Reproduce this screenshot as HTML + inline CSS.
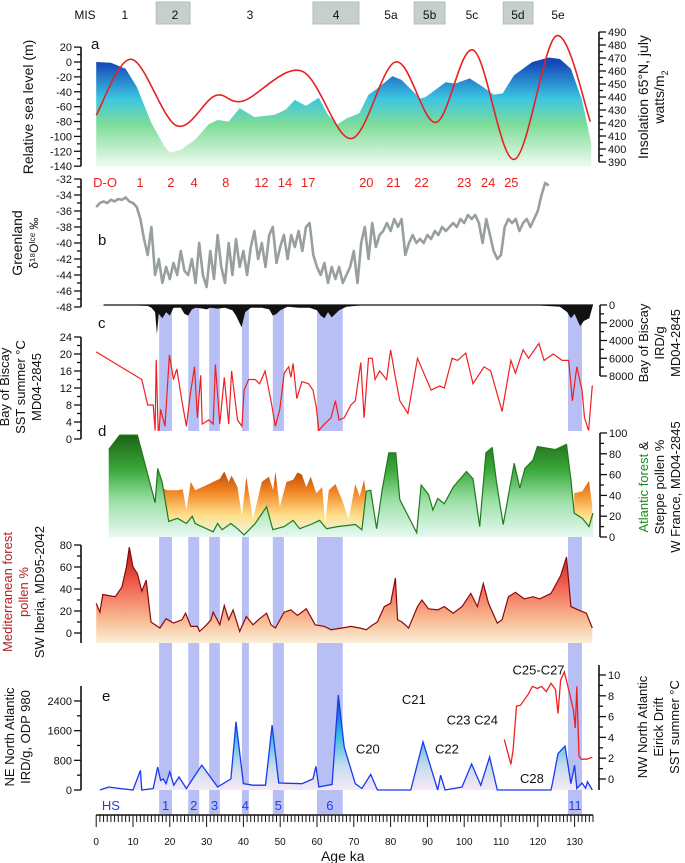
<!DOCTYPE html>
<html><head><meta charset="utf-8">
<style>
html,body{margin:0;padding:0;background:#fff;}
svg{display:block;font-family:"Liberation Sans Narrow","Liberation Sans",sans-serif;}
</style></head>
<body>
<svg id="fig" width="685" height="863" viewBox="0 0 685 863" xmlns="http://www.w3.org/2000/svg">
<defs>
<linearGradient id="gA" gradientUnits="userSpaceOnUse" x1="0" y1="62" x2="0" y2="167">
<stop offset="0" stop-color="#1346b8"/><stop offset="0.35" stop-color="#3cc6e0"/><stop offset="0.6" stop-color="#7fdc98"/><stop offset="1" stop-color="#f2fbf2"/></linearGradient>
<linearGradient id="gG" gradientUnits="userSpaceOnUse" x1="0" y1="433" x2="0" y2="537">
<stop offset="0" stop-color="#1b5e12"/><stop offset="0.35" stop-color="#3aa83a"/><stop offset="0.65" stop-color="#9ae0a6"/><stop offset="1" stop-color="#e8f8f3"/></linearGradient>
<linearGradient id="gO" gradientUnits="userSpaceOnUse" x1="0" y1="465" x2="0" y2="537">
<stop offset="0" stop-color="#a83a00"/><stop offset="0.35" stop-color="#f08020"/><stop offset="0.7" stop-color="#ffe08a"/><stop offset="1" stop-color="#e8f8f3"/></linearGradient>
<linearGradient id="gM" gradientUnits="userSpaceOnUse" x1="0" y1="545" x2="0" y2="643">
<stop offset="0" stop-color="#b01010"/><stop offset="0.4" stop-color="#f06050"/><stop offset="0.75" stop-color="#f8b890"/><stop offset="1" stop-color="#faf0d8"/></linearGradient>
<linearGradient id="gE" gradientUnits="userSpaceOnUse" x1="0" y1="695" x2="0" y2="790">
<stop offset="0" stop-color="#0a3cc0"/><stop offset="0.4" stop-color="#30b8e0"/><stop offset="0.75" stop-color="#c8dcf0"/><stop offset="1" stop-color="#f6e8f4"/></linearGradient>
</defs>
<g id="root"></g>
</svg>
<script>
// ---------- data ----------
const seaAge = [0,4,8,11,15,18.5,20,23,27,30.5,33,36,39,43,48.5,51.5,54,57,60.5,63,65.5,68,71.5,74,76,78.5,80.5,83,88,89.5,95,97.5,101.5,105,108,110.5,113.5,118.5,123,126,129,132,134.5];
const seaLevel = [0,-1,-9,-33,-82,-113,-122,-118,-104,-84,-78,-80,-62,-74,-71,-64,-51,-59,-48,-71,-84,-76,-69,-44,-37,-27,-19,-24,-49,-47,-27,-29,-22,-33,-44,-42,-18,0,6,4,-9,-51,-109];
const insAge = [0,9.6,21.8,32.3,40,55.8,69.3,81.4,92.3,102.5,113.6,125,134.3];
const insVal = [426,469,418,441,437,460,408,467,420.5,476,392,487,421];
const doLabels = ["D-O","1","2","4","8","12","14","17","20","21","22","23","24","25"];
const doAges = [2.4,11.9,20.3,26.6,35.2,44.9,51.3,57.6,73.4,80.8,88.4,100,106.5,112.8];
const greenVal = [-35.5,-35,-34.8,-35,-34.6,-34.8,-34.5,-34.6,-34.3,-34.8,-35,-35.5,-37,-39.5,-41.5,-38,-44,-42,-45,-43,-44.5,-42.5,-44,-41,-43.5,-44,-42,-45,-40,-44,-45.5,-41,-44.5,-39,-43,-45,-40,-44,-39.5,-43,-41,-44,-40.5,-38.5,-42,-40,-43,-39,-38,-42.5,-40.5,-39,-42,-39,-40.5,-38.5,-41,-38,-37.5,-41.5,-43,-44,-42.5,-45,-43,-44.5,-43,-45,-44,-43,-41,-45,-40,-38,-42,-37.5,-40.5,-39,-38.5,-37.5,-38.5,-37,-38,-37,-41.5,-40,-39,-40,-39.5,-40,-39,-39.5,-38.5,-39,-38,-38.5,-38,-37.5,-38,-37,-37.5,-36.5,-37,-36.5,-37.5,-40,-37,-39,-41,-42,-41.5,-38,-37,-37.5,-37,-38.5,-37.5,-37,-38,-37,-36,-34,-32.5,-32.8];
const sstAge = [0,12.4,14,15.5,16,16.3,16.9,17.5,18.7,19.9,21,21.9,23.3,24.5,25.5,26.7,27.5,28.4,28.8,30.6,31.8,32.4,33.6,34.8,36,36.8,38.4,39.6,40.2,41.4,43.2,44.4,45.9,47.5,48.7,49.9,51.1,52.3,52.9,53.5,54.5,55.9,57.7,58.9,59.8,60.5,62,63.8,65,66,67.4,69.2,70.4,71.9,72.8,74,75,75.8,77,78.9,80,81.3,82.5,84.7,87.3,91,93.4,94.6,96.7,98.2,100.4,102.4,105.4,107.2,110.3,112.7,113.9,116,117.5,120.3,121.7,124.2,126.6,128.4,129.4,130.6,132,132.7,133.8,134.8];
const sstVal = [20.5,14,8,8,2,18.6,0,7,3,19.8,14,16.5,9,3,10,17,5,15,3.5,4.5,3.5,17.5,3.5,14.5,3.5,16,4.5,3,11.5,14,14,13,16,9,3,7,15.5,17,14.5,17.8,9.5,13.5,13,11.5,7.5,2,3.5,5,9,4.5,5,8,9,18,5,19,19,14,16,14,21,14.5,9,6,19,11.5,12.5,12,19,18.5,20.2,13,17,16,6.5,18.5,15.5,21,19,22.5,18.5,20,18.5,18.5,9,17,11.5,5,2,12.6];
const irdAge = [0,10,14,15,16,16.5,17,18,19,20,21,23,24,25,26,27,29,30,31,33,35,37,38,39.5,40.5,42,45,47,48,49,50,52,55,58,60,61,62,63,64,65,66,68,72,80,100,120,126,128,129,130,131.5,132.5,134,135];
const irdVal = [0,50,100,300,800,3300,1000,1500,800,1200,300,300,1000,1200,500,300,400,500,300,400,300,600,1200,2500,800,300,300,500,1200,1000,600,200,300,300,600,1200,1500,800,1400,1000,600,200,50,50,50,50,200,800,1500,1000,2400,1800,1500,0];
const forAge = [3.4,6.4,11.2,16,16.7,17.9,19.7,22.1,24.5,26.1,26.9,31.8,33,34.2,36.6,38.4,40.2,43.2,46.3,48,51.1,53.5,55.3,58.3,60.7,62.6,65.6,70.4,72.2,73.4,74.6,76.2,77.7,79.5,80.7,81.4,82.5,87.1,88.3,90.3,91.5,92.8,94.6,97,100.6,102.4,104.2,105.9,107.6,108.8,110.6,113.6,115.1,116.5,118.7,119.9,124.8,127.8,129,129.9,132.1,133.9,135];
const forVal = [84,98,98,33,66,53,15,18,13,20,13,5,13,7,13,8,2,13,29,7,10,16,8,12,16,8,10,12,7,44,45,8,45,81,81,81,36,4,50,41,26,37,32,48,63,56,10,81,86,52,12,71,47,66,74,87,84,89,55,23,18,10,23];
const stepAgeA = [17.9,19.4,22.1,23.5,24.5,25.7,26.9,30.6,33.6,34.8,36,36.8,38.4,39.6,40.8,42.6,45,46.9,48.1,48.7,49.9,51.7,53.5,54.7,55.9,57.1,58.3,59.8,61.4,62.2,63.2,65,66.8,68.6,70.4,71.6,72.8,73.8,74.3];
const stepValA = [47,45,45,46,26,53,45,51,56,63,53,59,48,20,58,17,53,58,45,63,29,53,55,62,60,48,58,42,48,13,45,51,36,17,51,39,55,29,45];
const stepAgeB = [129.9,132.1,133.9,134.8];
const stepValB = [42,44,54,29];
const medAge = [0,1,1.8,5.2,7,8.2,9,10,11.2,12.4,13.6,14.5,14.9,17.3,19,21,23.3,24.3,25.7,27.5,28.1,30,31.2,31.8,33.6,34.8,36,37.2,39,40.8,42.6,44.4,46.3,47.5,48.7,51.1,52.9,54.7,57.1,59.5,62,63.8,66.8,69.2,71.6,73.4,75.2,76.4,78.3,80,81.3,81.9,83.1,84.9,87.3,88.5,90.3,92.8,94.6,97,99.4,101.8,103.6,105.2,106.6,109,110.3,112,113.9,116.3,118.7,120.5,123.6,126.2,127.8,129,131,133.2,134.8];
const medVal = [27,19,35,33,42,60,78,60,54,38,48,21,10,4.5,13,9,12,18,6,6,1.5,7.5,12,19,7.5,25,12,21,1.5,15,7.5,13,18,7.5,4.5,19,21,16,22,7.5,6,3,4.5,6,4.5,3,7.5,10,24,27,50,12,10,4.5,24,30,22,21,24,18,24,36,24,45,27,9,12,33,37,31,33,31,36,52,69,24,21,18,4.5];
const odpAge = [1,3.4,6.4,10,12,12.4,15.5,16.7,17.5,18.2,19,20,21.1,22.5,24.5,28.7,33,36.6,38,40,42.6,46,47.8,49.6,55.9,58.9,59.7,60.5,64.1,65.8,67.4,70.4,72.2,74.6,76.4,85.5,88.8,92.8,93.6,94.8,99.4,102,104.5,106.9,109,123.6,124,125.5,127.4,129,130,130.6,132,133,133.5,134.8];
const odpVal = [0,80,40,0,530,0,40,620,260,300,170,490,130,350,40,670,80,300,1840,170,130,130,1750,190,170,300,640,80,150,2560,1160,170,40,420,0,0,1300,0,400,0,80,700,130,890,0,0,190,980,1180,170,670,40,190,50,220,0];
const eirAge = [110.9,112.1,112.7,113.3,114.2,115.3,117.5,118.5,119.9,121,122.3,123.6,124.8,125.5,126.2,127.2,128.4,129.7,130.2,130.6,131.2,131.8,133.3,134.8];
const eirVal = [3.8,2.2,1.4,2.8,7,7.1,8.2,8.9,8.7,8.9,8.4,9.2,8.6,6.3,9.5,10.3,8.6,6.6,4.9,8.9,2.2,1.9,1.9,2.1];
const hsLabels = ["1","2","3","4","5","6","11"];
const hsStart = [17.1,25,30.7,39.6,48,60,128.2];
const hsEnd = [20.6,28,33.6,41.5,51,67,132];
const misLabels = ["1","2","3","4","5a","5b","5c","5d","5e"];
const misCenter = [7.8,21.4,41.8,65.2,80.1,90.6,102.1,114.6,125.5];
const misBoxStart = [null,16.3,null,58.9,null,86.4,null,110.6,null];
const misBoxEnd = [null,25.5,null,71.4,null,94.8,null,118.7,null];

// ---------- scales ----------
const X = k => 96.2 + k * 3.68;
const ySL = m => 62 - m * 0.744;
const yIns = w => 32 + (490 - w) * 1.3;
const yG = v => 179 + (-32 - v) * 8.0;
const ySST = v => 439 - v * 4.25;
const yIRD = v => 305 + v * 0.008875;
const yD = v => 537 - v * 1.04;
const yM = v => 633 - v * 1.1;
const yE = v => 790 - v * 0.0371;
const yS2 = v => 779 - v * 10.4;

const NS = "http://www.w3.org/2000/svg";
const root = document.getElementById("root");
function mk(tag, attrs, name, inter) {
  const el = document.createElementNS(NS, tag);
  for (const k in attrs) el.setAttribute(k, attrs[k]);
  
  
  root.appendChild(el);
  return el;
}
function txt(x, y, s, name, o) {
  o = o || {};
  const a = {x: x, y: y, "font-size": o.size || 11, fill: o.fill || "#111", "text-anchor": o.anchor || "middle"};
  if (o.rot !== undefined) a.transform = "rotate(" + o.rot + " " + x + " " + y + ")";
  const t = mk("text", a, name);
  t.textContent = s;
  return t;
}
function linePts(ages, vals, fx, fy) {
  return ages.map((a, i) => X(a).toFixed(1) + "," + fy(vals[i]).toFixed(1)).join(" ");
}
function areaPath(ages, vals, fy, base) {
  let d = "M" + X(ages[0]).toFixed(1) + "," + base;
  ages.forEach((a, i) => { d += " L" + X(a).toFixed(1) + "," + fy(vals[i]).toFixed(1); });
  d += " L" + X(ages[ages.length - 1]).toFixed(1) + "," + base + " Z";
  return d;
}
function smoothPath(ages, vals, fy) {
  const p = ages.map((a, i) => [X(a), fy(vals[i])]);
  let d = "M" + p[0][0].toFixed(1) + "," + p[0][1].toFixed(1);
  for (let i = 0; i < p.length - 1; i++) {
    const p0 = p[Math.max(0, i - 1)], p1 = p[i], p2 = p[i + 1], p3 = p[Math.min(p.length - 1, i + 2)];
    const c1x = p1[0] + (p2[0] - p0[0]) / 6, c1y = p1[1] + (p2[1] - p0[1]) / 6;
    const c2x = p2[0] - (p3[0] - p1[0]) / 6, c2y = p2[1] - (p3[1] - p1[1]) / 6;
    d += " C" + c1x.toFixed(1) + "," + c1y.toFixed(1) + " " + c2x.toFixed(1) + "," + c2y.toFixed(1) + " " + p2[0].toFixed(1) + "," + p2[1].toFixed(1);
  }
  return d;
}
function vAxis(x, fy, vmin, vmax, major, minor, side, name, top, bot) {
  mk("line", {x1: x, x2: x, y1: top !== undefined ? top : fy(vmax), y2: bot !== undefined ? bot : fy(vmin), stroke: "#111", "stroke-width": 1.6}, name + "-line");
  for (let v = vmin; v <= vmax + 1e-6; v += minor) {
    const isMaj = Math.abs(Math.round(v / major) * major - v) < 1e-6;
    const len = isMaj ? 7 : 4;
    mk("line", {x1: x, x2: x + (side < 0 ? -len : len), y1: fy(v), y2: fy(v), stroke: "#111", "stroke-width": 1.3}, name + "-tick");
    if (isMaj) txt(x + side * 9, fy(v) + 4, String(v), name + "-label", {anchor: side < 0 ? "end" : "start", size: 11});
  }
}

// ---------- MIS row ----------
txt(85, 19, "MIS", "mis-title", {size: 12});
misLabels.forEach((l, i) => {
  if (misBoxStart[i] !== null) {
    mk("rect", {x: X(misBoxStart[i]), y: 2, width: X(misBoxEnd[i]) - X(misBoxStart[i]), height: 22, fill: "#c6cfcc", stroke: "#b5bebb"}, "mis-box-" + l);
  }
  txt(X(misCenter[i]), 19, l, "mis-label-" + l, {size: 12});
});

// ---------- panel a ----------
mk("path", {d: areaPath(seaAge, seaLevel, ySL, 167), fill: "url(#gA)"}, "sea-level-area");
mk("path", {d: smoothPath(insAge, insVal, yIns), fill: "none", stroke: "#e82020", "stroke-width": 1.6}, "insolation-line");
vAxis(81, ySL, -140, 20, 20, 10, -1, "sea-level-axis");
vAxis(599, yIns, 390, 490, 10, 5, 1, "insolation-axis");
txt(91, 49, "a", "panel-a-label", {size: 15, anchor: "start"});
txt(33, 107, "Relative sea level (m)", "sea-level-title", {size: 14, rot: -90});
txt(648, 97, "Insolation 65°N, july", "insolation-title", {size: 14, rot: -90});
{
  const t = txt(664, 97, "watts/m", "insolation-unit", {size: 14, rot: -90});
  const s = document.createElementNS(NS, "tspan");
  s.setAttribute("font-size", "9"); s.setAttribute("dy", "4"); s.textContent = "2";
  t.appendChild(s);
}
doLabels.forEach((l, i) => txt(X(doAges[i]), 187, l, "do-label-" + l, {size: 13, fill: "#ee2020"}));

// ---------- panel b ----------
mk("polyline", {points: greenVal.map((v, i) => X(i).toFixed(1) + "," + yG(v).toFixed(1)).join(" "), fill: "none", stroke: "#97a09c", "stroke-width": 2.6, "stroke-linejoin": "round"}, "greenland-d18o-line");
vAxis(81, yG, -48, -32, 2, 1, -1, "greenland-axis");
txt(98, 245, "b", "panel-b-label", {size: 15, anchor: "start"});
txt(22, 243, "Greenland", "greenland-title", {size: 14, rot: -90});
txt(38, 243, "δ¹⁸O\u1D35\u1D9C\u1D49 ‰", "greenland-unit", {size: 12, rot: -90});

// ---------- HS bands ----------
hsStart.forEach((s, i) => {
  mk("rect", {x: X(s), y: 306, width: X(hsEnd[i]) - X(s), height: 508, fill: "#b8bff4"}, "heinrich-band-" + hsLabels[i]);
});

// ---------- panel c ----------
mk("path", {d: areaPath(irdAge, irdVal, yIRD, 305), fill: "#111"}, "biscay-ird-area");
mk("line", {x1: X(2), x2: X(135), y1: 305, y2: 305, stroke: "#111", "stroke-width": 1.2}, "biscay-ird-baseline");
mk("polyline", {points: linePts(sstAge, sstVal, X, ySST), fill: "none", stroke: "#f02020", "stroke-width": 1.2}, "biscay-sst-line");
vAxis(81, ySST, 0, 24, 4, 2, -1, "biscay-sst-axis");
vAxis(600, yIRD, 0, 8000, 2000, 1000, 1, "biscay-ird-axis", 305, 376);
txt(98, 328, "c", "panel-c-label", {size: 15, anchor: "start"});
txt(9, 387, "Bay of Biscay", "sst-title-1", {size: 13, rot: -90});
txt(25, 387, "SST summer °C", "sst-title-2", {size: 13, rot: -90});
txt(41, 387, "MD04-2845", "sst-title-3", {size: 13, rot: -90});
txt(648, 343, "Bay of Biscay", "ird-title-1", {size: 13, rot: -90});
txt(664, 343, "IRD/g", "ird-title-2", {size: 13, rot: -90});
txt(680, 343, "MD04-2845", "ird-title-3", {size: 13, rot: -90});

// ---------- panel d ----------
mk("rect", {x: X(3.4), y: 431, width: X(135) - X(3.4), height: 106, fill: "#fff"}, "panel-d-background");
mk("path", {d: areaPath(stepAgeA, stepValA, yD, 537), fill: "url(#gO)"}, "steppe-area-glacial");
mk("path", {d: areaPath(stepAgeB, stepValB, yD, 537), fill: "url(#gO)"}, "steppe-area-mis6");
mk("path", {d: areaPath(forAge, forVal, yD, 537), fill: "url(#gG)"}, "atlantic-forest-area");
mk("polyline", {points: linePts(forAge, forVal, X, yD), fill: "none", stroke: "#1f7a1a", "stroke-width": 1.2}, "atlantic-forest-line");
vAxis(600, yD, 0, 100, 20, 10, 1, "forest-axis");
txt(98, 436, "d", "panel-d-label", {size: 15, anchor: "start"});
{
  const t = txt(648, 487, "Atlantic forest", "forest-title-1", {size: 13, rot: -90, fill: "#1e8a1e"});
  const s = document.createElementNS(NS, "tspan");
  s.setAttribute("fill", "#111"); s.textContent = " &";
  t.appendChild(s);
}
txt(664, 487, "Steppe pollen %", "forest-title-2", {size: 13, rot: -90});
txt(680, 487, "W France, MD04-2845", "forest-title-3", {size: 13, rot: -90});

// ---------- Mediterranean panel ----------
mk("path", {d: areaPath(medAge, medVal, yM, 643), fill: "url(#gM)"}, "med-forest-area");
mk("polyline", {points: linePts(medAge, medVal, X, yM), fill: "none", stroke: "#8a0a0a", "stroke-width": 1.2}, "med-forest-line");
vAxis(81, yM, 0, 80, 20, 10, -1, "med-forest-axis", 545, 643);
txt(12, 592, "Mediterranean forest", "med-title-1", {size: 13, rot: -90, fill: "#b02020"});
txt(28, 592, "pollen %", "med-title-2", {size: 13, rot: -90, fill: "#b02020"});
txt(44, 592, "SW Iberia, MD95-2042", "med-title-3", {size: 13, rot: -90});

// ---------- panel e ----------
mk("path", {d: areaPath(odpAge, odpVal, yE, 790), fill: "url(#gE)"}, "odp980-ird-area");
mk("polyline", {points: linePts(odpAge, odpVal, X, yE), fill: "none", stroke: "#1a3af0", "stroke-width": 1.3}, "odp980-ird-line");
mk("polyline", {points: linePts(eirAge, eirVal, X, yS2), fill: "none", stroke: "#f02020", "stroke-width": 1.3}, "eirik-sst-line");
vAxis(81, yE, 0, 2400, 800, 400, -1, "odp980-axis", 686, 790);
vAxis(599, yS2, 0, 10, 2, 1, 1, "eirik-axis", 665, 790);
txt(102, 701, "e", "panel-e-label", {size: 15, anchor: "start"});
txt(14, 737, "NE North Atlantic", "odp-title-1", {size: 13, rot: -90});
txt(30, 737, "IRD/g, ODP 980", "odp-title-2", {size: 13, rot: -90});
txt(647, 727, "NW North Atlantic", "eirik-title-1", {size: 13, rot: -90});
txt(663, 727, "Eirick Drift", "eirik-title-2", {size: 13, rot: -90});
txt(679, 727, "SST summer °C", "eirik-title-3", {size: 13, rot: -90});
const cLabels = ["C20","C21","C22","C23 C24","C25-C27","C28"];
const cAges = [73.8,86.3,95.3,102.2,120.2,118.4];
const cVals = [1120,2450,1120,1900,3250,330];
cLabels.forEach((l, i) => txt(X(cAges[i]), yE(cVals[i]) + 5, l, "event-label-" + l.replace(/\s/g, ""), {size: 13}));
txt(X(4), 810, "HS", "hs-title", {size: 13, fill: "#2040e0"});
hsLabels.forEach((l, i) => txt(X((hsStart[i] + hsEnd[i]) / 2), 810, l, "hs-label-" + l, {size: 13, fill: "#2040e0"}));

// ---------- x axis ----------
mk("line", {x1: X(0), x2: X(135), y1: 815, y2: 815, stroke: "#111", "stroke-width": 1.5}, "x-axis-line");
for (let k = 0; k <= 135; k++) {
  const maj = k % 10 === 0;
  mk("line", {x1: X(k), x2: X(k), y1: 815, y2: maj ? 827 : 822, stroke: "#111", "stroke-width": 1}, "x-axis-tick");
  if (maj) txt(X(k), 845, String(k), "x-axis-label", {size: 10});
}
txt(X(67), 861, "Age ka", "x-axis-title", {size: 14});
</script>
</body></html>
